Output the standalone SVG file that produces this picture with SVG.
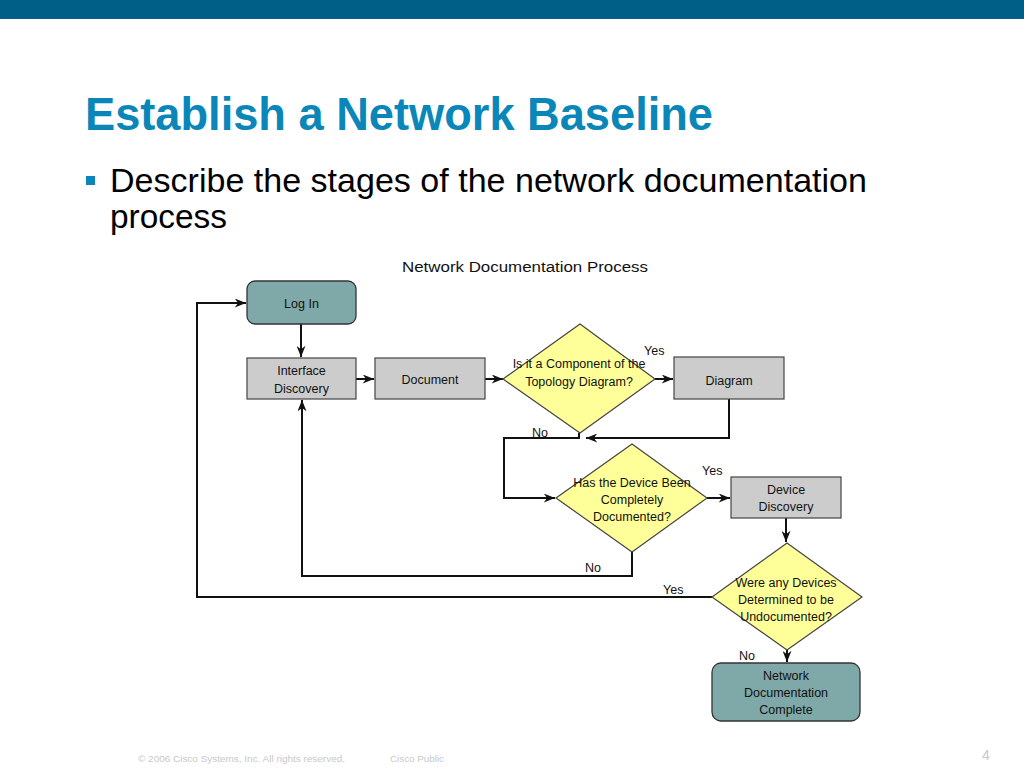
<svg xmlns="http://www.w3.org/2000/svg" width="1024" height="768" viewBox="0 0 1024 768">
<defs>
<style>
.t{font-family:"Liberation Sans",Arial,sans-serif;fill:#111;}
.n{font-size:12.5px;text-anchor:middle;}
.lb{font-size:12.5px;}
.term{fill:#7FA8A8;stroke:#333;stroke-width:1.3;}
.proc{fill:#CCCCCC;stroke:#444;stroke-width:1.2;}
.dec{fill:#FFFF99;stroke:#444;stroke-width:1.2;}
.c{fill:none;stroke:#111;stroke-width:2;}
.ft{font-family:"Liberation Sans",Arial,sans-serif;font-size:9.5px;fill:#C8C8C8;}
.pg{font-size:14px;}
</style>
<marker id="a" viewBox="0 0 10 8" refX="10" refY="4" markerWidth="12" markerHeight="9" orient="auto" markerUnits="userSpaceOnUse">
<path d="M0,0 L10,4 L0,8 L3,4 Z" fill="#111"/>
</marker>
</defs>
<rect x="0" y="0" width="1024" height="768" fill="#FFFFFF"/>
<rect x="0" y="0" width="1024" height="19" fill="#005F87"/>
<text x="85" y="130" font-family="'Liberation Sans',Arial,sans-serif" font-weight="bold" font-size="47" fill="#0A87B8" textLength="628" lengthAdjust="spacingAndGlyphs">Establish a Network Baseline</text>
<rect x="86" y="176" width="9" height="9" fill="#0A87B8"/>
<text x="110" y="192" font-family="'Liberation Sans',Arial,sans-serif" font-size="34" fill="#000" textLength="757" lengthAdjust="spacingAndGlyphs">Describe the stages of the network documentation</text>
<text x="110" y="228" font-family="'Liberation Sans',Arial,sans-serif" font-size="34" fill="#000" textLength="117" lengthAdjust="spacingAndGlyphs">process</text>
<text class="t" x="525" y="272" font-size="15.5" text-anchor="middle" textLength="246" lengthAdjust="spacingAndGlyphs">Network Documentation Process</text>

<g id="connectors">
<path class="c" d="M301,324 L301,357" marker-end="url(#a)"/>
<path class="c" d="M356,379 L374,379" marker-end="url(#a)"/>
<path class="c" d="M485,379 L503,379" marker-end="url(#a)"/>
<path class="c" d="M655,379 L673,379" marker-end="url(#a)"/>
<path class="c" d="M729,399 L729,438 L586,438" marker-end="url(#a)"/>
<path class="c" d="M579,433 L579,438 L504,438 L504,498 L555,498" marker-end="url(#a)"/>
<path class="c" d="M707,498 L730,498" marker-end="url(#a)"/>
<path class="c" d="M632,552 L632,576 L302,576 L302,400" marker-end="url(#a)"/>
<path class="c" d="M786,518 L786,542" marker-end="url(#a)"/>
<path class="c" d="M712,597 L197,597 L197,303 L246,303" marker-end="url(#a)"/>
<path class="c" d="M787,650 L787,662" marker-end="url(#a)"/>
<text class="t lb" x="644" y="355">Yes</text>
<text class="t lb" x="532" y="437">No</text>
<text class="t lb" x="702" y="475">Yes</text>
<text class="t lb" x="585" y="572">No</text>
<text class="t lb" x="663" y="594">Yes</text>
<text class="t lb" x="739" y="660">No</text>
</g>

<g id="login">
<rect class="term" x="247" y="281" width="109" height="43" rx="8"/>
<text class="t n" x="301.5" y="308">Log In</text>
</g>
<g id="interface-discovery">
<rect class="proc" x="247" y="358" width="109" height="41"/>
<text class="t n" x="301.5" y="375">Interface</text>
<text class="t n" x="301.5" y="393">Discovery</text>
</g>
<g id="document">
<rect class="proc" x="375" y="358" width="110" height="41"/>
<text class="t n" x="430" y="384">Document</text>
</g>
<g id="is-component">
<polygon class="dec" points="580,324 655,379 580,433 503,379"/>
<text class="t n" x="579" y="368">Is it a Component of the</text>
<text class="t n" x="579" y="386">Topology Diagram?</text>
</g>
<g id="diagram">
<rect class="proc" x="674" y="357" width="110" height="42"/>
<text class="t n" x="729" y="385">Diagram</text>
</g>
<g id="has-device">
<polygon class="dec" points="632,444 707,498 632,552 556,498"/>
<text class="t n" x="632" y="487">Has the Device Been</text>
<text class="t n" x="632" y="504">Completely</text>
<text class="t n" x="632" y="521">Documented?</text>
</g>
<g id="device-discovery">
<rect class="proc" x="731" y="477" width="110" height="41"/>
<text class="t n" x="786" y="494">Device</text>
<text class="t n" x="786" y="511">Discovery</text>
</g>
<g id="were-any">
<polygon class="dec" points="787,543 862,597 787,650 712,597"/>
<text class="t n" x="786" y="587">Were any Devices</text>
<text class="t n" x="786" y="604">Determined to be</text>
<text class="t n" x="786" y="621">Undocumented?</text>
</g>
<g id="complete">
<rect class="term" x="712" y="663" width="148" height="58" rx="9"/>
<text class="t n" x="786" y="680">Network</text>
<text class="t n" x="786" y="697">Documentation</text>
<text class="t n" x="786" y="714">Complete</text>
</g>

<text class="ft" x="138" y="762" textLength="207" lengthAdjust="spacingAndGlyphs">© 2006 Cisco Systems, Inc. All rights reserved.</text>
<text class="ft" x="390" y="762" textLength="54" lengthAdjust="spacingAndGlyphs">Cisco Public</text>
<text class="ft pg" x="982" y="760">4</text>
</svg>
